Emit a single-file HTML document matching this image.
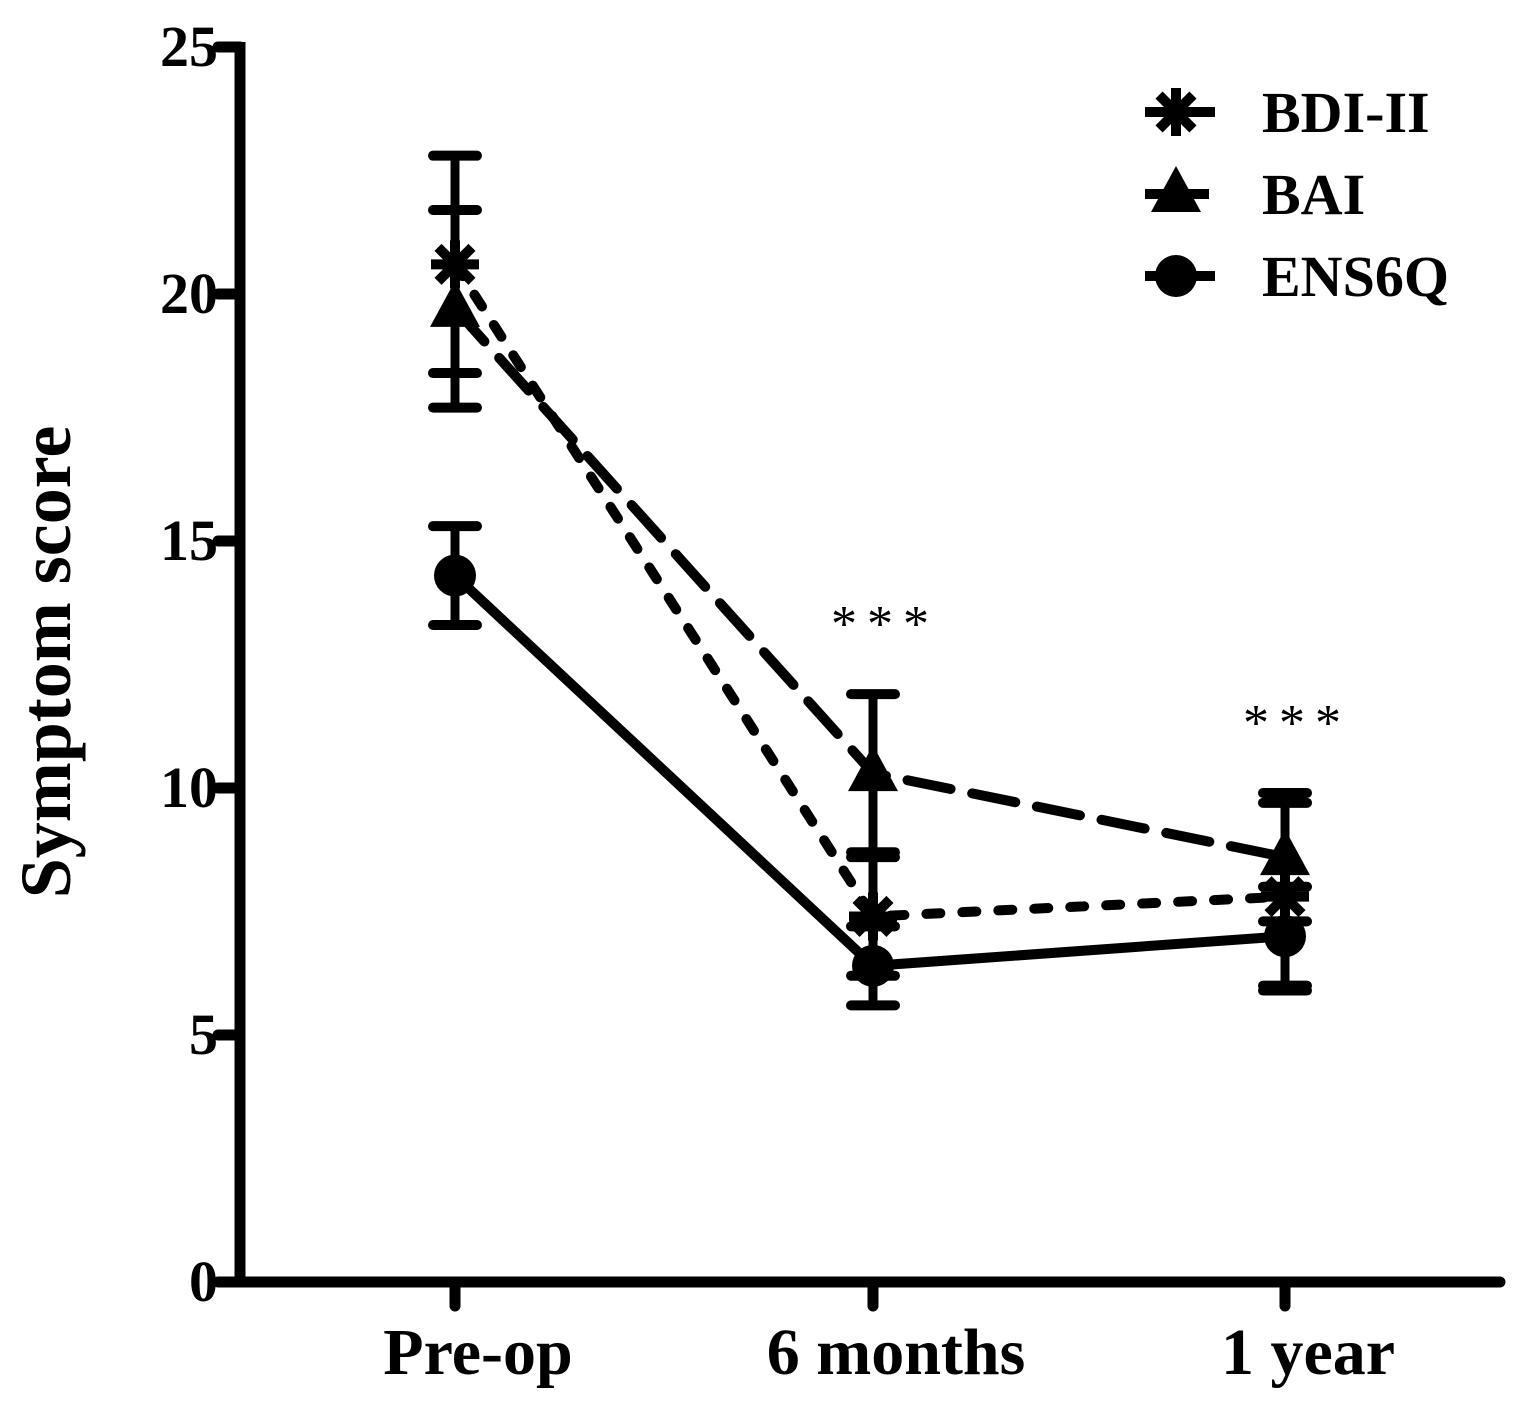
<!DOCTYPE html>
<html><head><meta charset="utf-8"><style>
html,body{margin:0;padding:0;background:#fff;}
svg{display:block;font-family:"Liberation Serif",serif;}
</style></head><body>
<svg id="chart" width="1524" height="1405" viewBox="0 0 1524 1405"></svg>
<script>
const categories = ["Pre-op","6 months","1 year"];
const bdiValues = [20.6, 7.4, 7.8];
const bdiErr = [2.2, 1.2, 1.9];
const baiValues = [19.7, 10.3, 8.6];
const baiErr = [2.0, 1.6, 1.3];
const ensValues = [14.3, 6.4, 7.0];
const ensErr = [1.0, 0.8, 1.0];
const yTicks = [0,5,10,15,20,25];
const sigLabels = ["", "***", "***"];
const sigValues = [null, 13.5, 11.5];

const NS="http://www.w3.org/2000/svg";
const svg=document.getElementById('chart');
const X0=240, Y0=1282, Ytop=47;
const xPos=[455,873,1285];
function yScale(v){return Y0-(v/25)*(Y0-Ytop);}
function xScale(i){return xPos[i];}
function mk(tag,attrs,parent){const e=document.createElementNS(NS,tag);for(const k in attrs)e.setAttribute(k,attrs[k]);(parent||svg).appendChild(e);return e;}

let g=mk('g',{});


mk('line',{x1:X0,y1:Ytop-5,x2:X0,y2:Y0+5,stroke:'#000','stroke-width':11},g);
yTicks.forEach(t=>{
  const y=yScale(t);
  mk('line',{x1:X0-22,y1:y,x2:X0,y2:y,stroke:'#000','stroke-width':11,'stroke-linecap':'round'},g);
  const tx=mk('text',{x:X0-22,y:y+19,'text-anchor':'end','font-size':58,'font-weight':'bold'},g);
  tx.textContent=t;
  
  
});
let gx=mk('g',{});


mk('line',{x1:X0-5,y1:Y0,x2:1500,y2:Y0,stroke:'#000','stroke-width':11,'stroke-linecap':'round'},gx);
categories.forEach((c,i)=>{
  const x=xScale(i);
  mk('line',{x1:x,y1:Y0,x2:x,y2:Y0+24,stroke:'#000','stroke-width':11,'stroke-linecap':'round'},gx);
  const tx=mk('text',{x:x+23,y:1374,'text-anchor':'middle','font-size':66,'font-weight':'bold'},gx);
  tx.textContent=c;
  
  
});
const yt=mk('text',{x:0,y:0,transform:'translate(70,662) rotate(-90)','text-anchor':'middle','font-size':72,'font-weight':'bold'});
yt.textContent='Symptom score';



function marker(type,x,y,parent){
  if(type==='star'){
    for(let a=0;a<4;a++){const ang=a*Math.PI/4;const r=24;
      mk('line',{x1:x-r*Math.cos(ang),y1:y-r*Math.sin(ang),x2:x+r*Math.cos(ang),y2:y+r*Math.sin(ang),stroke:'#000','stroke-width':10},parent);}
  }else if(type==='tri'){
    mk('polygon',{points:`${x},${y-28} ${x-25},${y+18} ${x+25},${y+18}`,fill:'#000'},parent);
  }else{
    mk('circle',{cx:x,cy:y,r:21,fill:'#000'},parent);
  }
}
const series=[
  {name:'BDI-II',vals:bdiValues,err:bdiErr,dash:'14 22',m:'star'},
  {name:'BAI',vals:baiValues,err:baiErr,dash:'44 22',m:'tri'},
  {name:'ENS6Q',vals:ensValues,err:ensErr,dash:'none',m:'circ'}
];
series.forEach((s,si)=>{
  const sg=mk('g',{});
  
  
  const pts=s.vals.map((v,i)=>xScale(i)+','+yScale(v)).join(' ');
  const pl=mk('polyline',{points:pts,fill:'none',stroke:'#000','stroke-width':10,'stroke-dasharray':s.dash,'stroke-linecap':s.dash==='none'?'butt':'round'},sg);
  
  
  s.vals.forEach((v,i)=>{
    const x=xScale(i),yh=yScale(v+s.err[i]),yl=yScale(v-s.err[i]);
    const eb=mk('g',{},sg);
    
    
    mk('line',{x1:x,y1:yh,x2:x,y2:yl,stroke:'#000','stroke-width':9},eb);
    mk('line',{x1:x-22,y1:yh,x2:x+22,y2:yh,stroke:'#000','stroke-width':10,'stroke-linecap':'round'},eb);
    mk('line',{x1:x-22,y1:yl,x2:x+22,y2:yl,stroke:'#000','stroke-width':10,'stroke-linecap':'round'},eb);
    const mg=mk('g',{},sg);
    
    
    marker(s.m,x,yScale(v),mg);
  });
  const lg=mk('g',{});
  
  
  const ly=112+si*82;
  mk('line',{x1:1145,y1:ly,x2:1215,y2:ly,stroke:'#000','stroke-width':10,'stroke-dasharray':s.m==='tri'?'26 12':'none'},lg);
  marker(s.m,1176,ly,lg);
  const t=mk('text',{x:1262,y:ly+20,'font-size':58,'font-weight':'bold'},lg);
  t.textContent=s.name;
});
sigLabels.forEach((l,i)=>{
  if(!l)return;
  const t=mk('text',{x:xScale(i)+12,y:yScale(sigValues[i])+26,'text-anchor':'middle','font-size':52,'letter-spacing':'10'});
  t.textContent=l;
  
  
});
</script>
</body></html>
